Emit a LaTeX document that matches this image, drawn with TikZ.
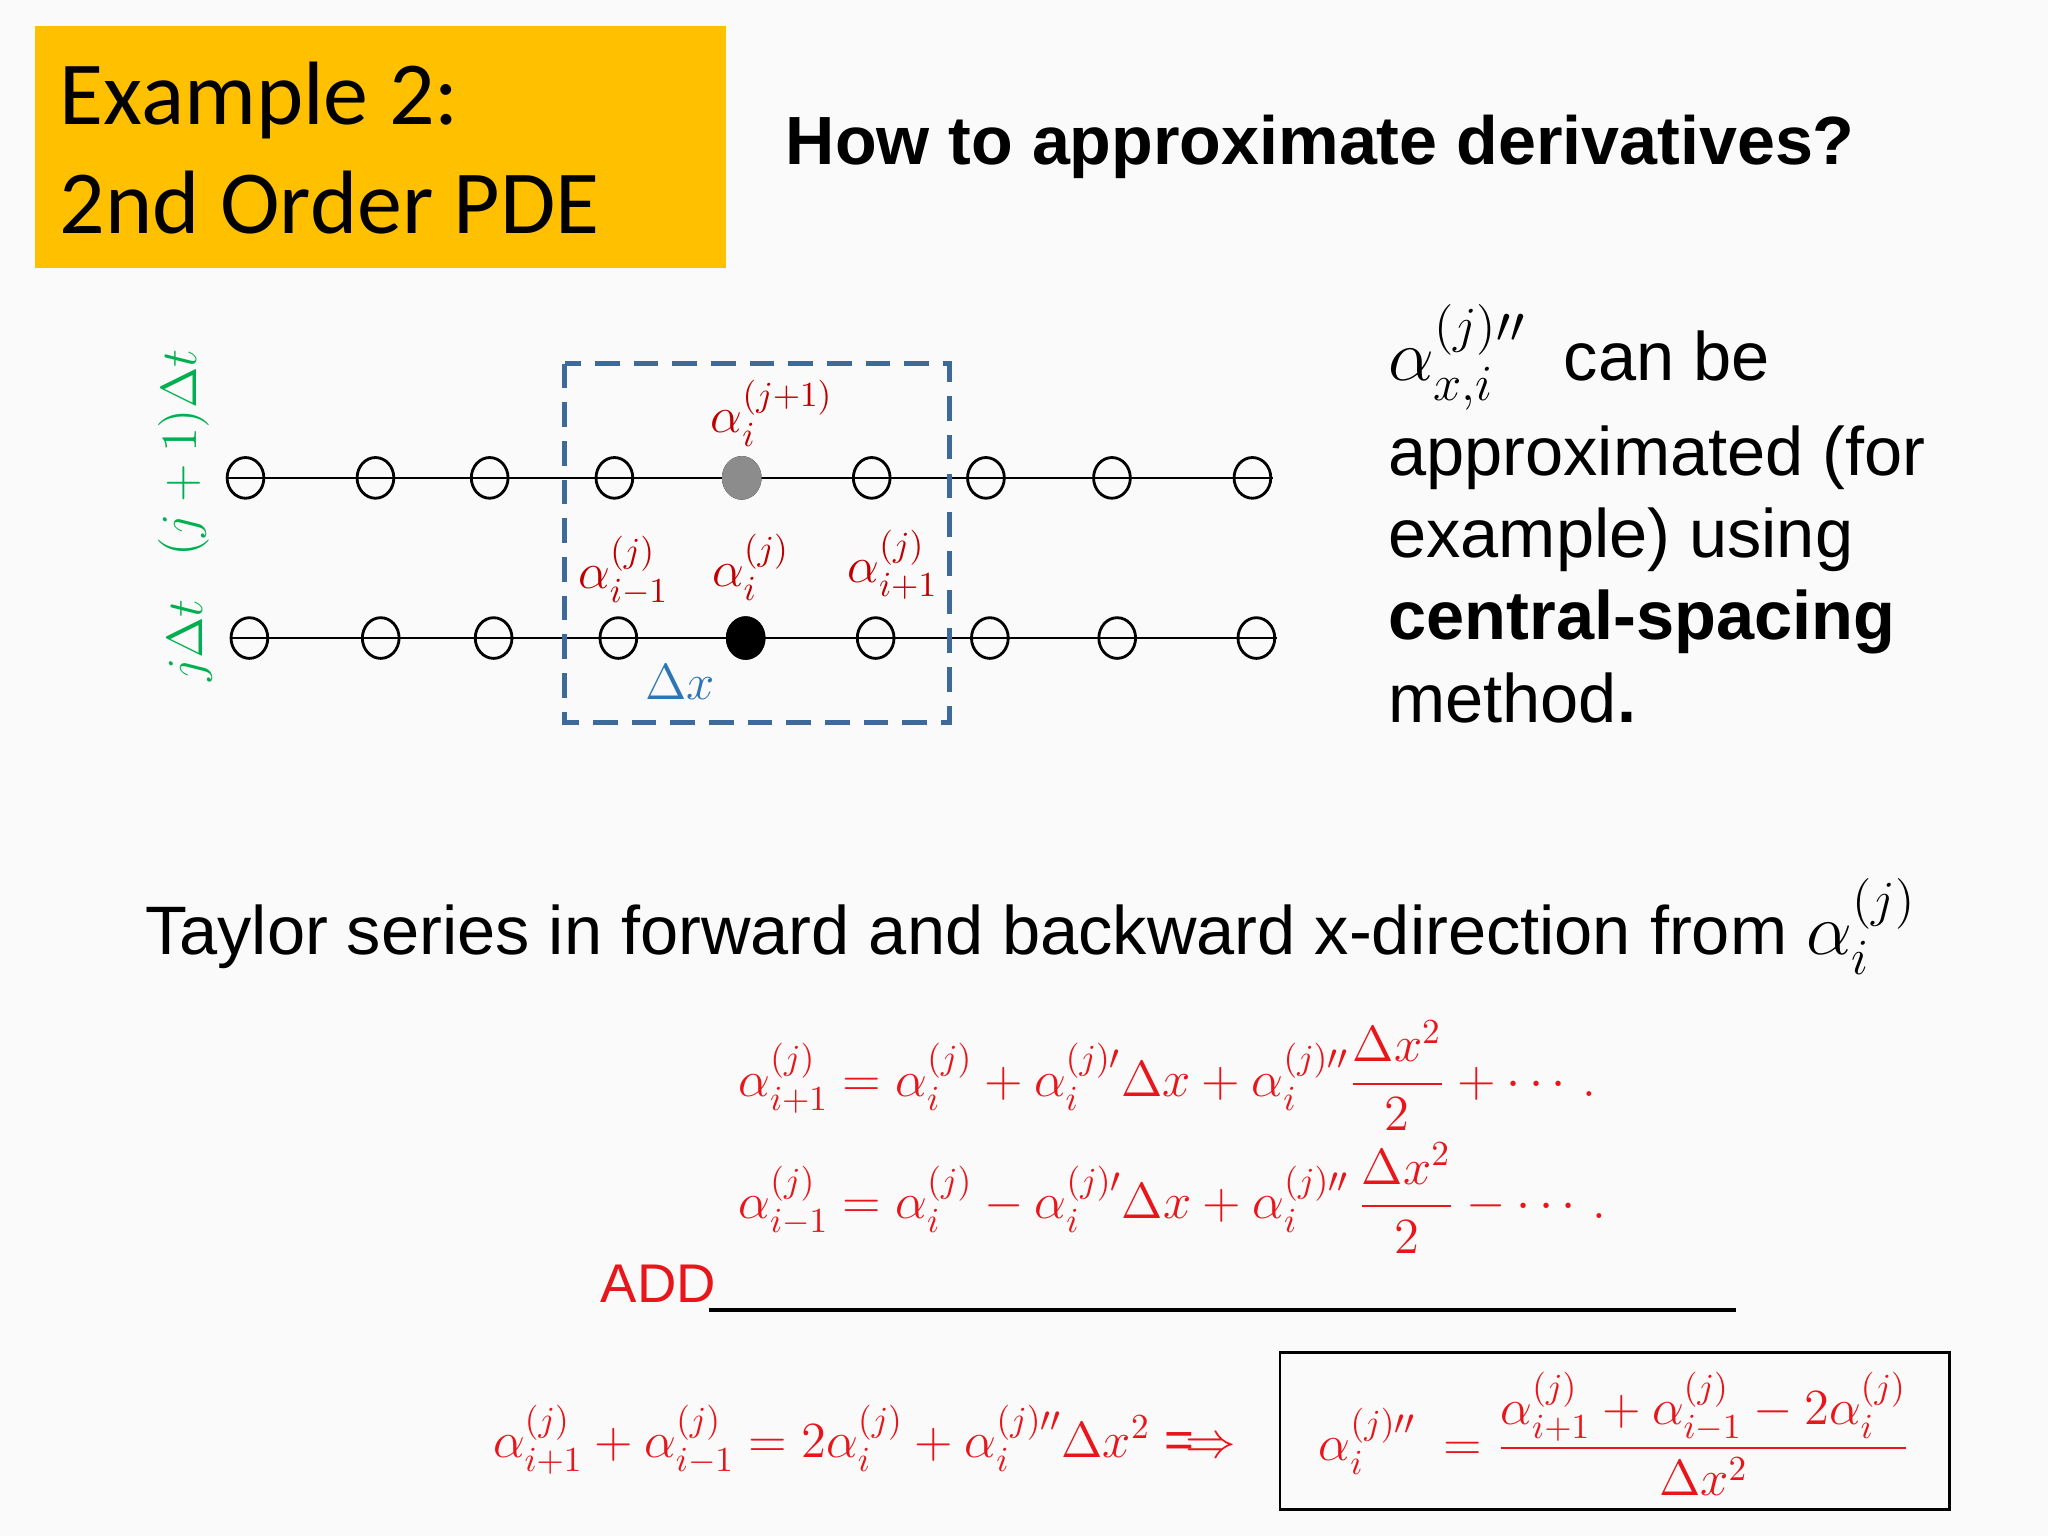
\documentclass[tikz,border=0pt]{standalone}
\usepackage{amsmath}
\usepackage{fontspec}
\setmainfont{Liberation Sans}
\newfontfamily\calib{Carlito}
\definecolor{orng}{HTML}{FFC000}
\definecolor{dred}{HTML}{C00000}
\definecolor{eqred}{HTML}{E8161B}
\definecolor{grn}{HTML}{00B050}
\definecolor{bxblue}{HTML}{3E6A9A}
\definecolor{dxblue}{HTML}{2E75B6}
\definecolor{bg}{HTML}{FAFAFA}
\tikzset{
  pt/.style={draw,ellipse,minimum width=28\unitx,minimum height=31\unitx,inner sep=0pt,line width=0.8pt},
  lbl/.style={text=dred,font=\fontsize{14}{16}\selectfont},
  eq/.style={text=eqred,font=\fontsize{14.5}{18}\selectfont},
  body/.style={font=\fontsize{19.5}{23}\selectfont,anchor=base west,inner sep=0pt}
}
\usetikzlibrary{shapes.geometric}
\newlength\unitx \setlength\unitx{0.013128cm}
\begin{document}
\begin{tikzpicture}[x=0.013128cm,y=-0.013128cm]
\fill[bg] (0,0) rectangle (1560,1170);
\useasboundingbox (0,0) rectangle (1560,1170);
\fill[orng] (27,20) rectangle (553,204);
\node[anchor=base west,inner sep=0pt,font=\calib\fontsize{25.6}{30}\selectfont] (ex1) at (45,95) {Example 2:};
\node[anchor=base west,inner sep=0pt,font=\calib\fontsize{25.6}{30}\selectfont] (ex2) at (45,178) {2nd Order PDE};
\node[anchor=base west,inner sep=0pt,font=\bfseries\fontsize{19.4}{22}\selectfont] (title) at (598,125) {How to approximate derivatives?};
% grid
\draw[line width=0.6pt] (172,364) -- (970,364);
\draw[line width=0.6pt] (175,486) -- (973,486);
\foreach \x [count=\k] in {187,286,373,468,565,664,751,847,954}{
  \node[pt] (a\k) at (\x,364) {};}
\foreach \x [count=\k] in {190,290,376,471,568,667,754,851,957}{
  \node[pt] (b\k) at (\x,486) {};}
\node[pt,fill=gray!90,draw=gray!90] at (565,364) {};
\node[pt,fill=black] at (568,486) {};
\draw[bxblue,line width=1.4pt,dash pattern=on 7pt off 4pt] (430,277) rectangle (723,550);
\node[lbl] (l1) at (588,315) {$\alpha_i^{(j+1)}$};
\node[lbl] (l2) at (475,435) {$\alpha_{i-1}^{(j)}$};
\node[lbl] (l3) at (572,432) {$\alpha_i^{(j)}$};
\node[lbl] (l4) at (680,430) {$\alpha_{i+1}^{(j)}$};
\node[text=dxblue,font=\fontsize{15}{17}\selectfont] (dx) at (518,520) {$\Delta x$};
\node[text=grn,rotate=90,font=\fontsize{15}{17}\selectfont] (t1) at (140,345) {$(j+1)\Delta t$};
\node[text=grn,rotate=90,font=\fontsize{15}{17}\selectfont] (t2) at (145,488) {$j\Delta t$};
% right text
\node[body] (r1) at (1057,290) {$\alpha_{x,i}^{(j)\prime\prime}$ \ can be};
\node[body] (r2) at (1057,362) {approximated (for};
\node[body] (r3) at (1057,425) {example) using};
\node[body] (r4) at (1057,487) {\textbf{central-spacing}};
\node[body] (r5) at (1057,550) {method\textbf{.}};
\node[body] (tay) at (110,727) {Taylor series in forward and backward x-direction from $\alpha_i^{(j)}$};
% equations
\node[eq,anchor=base west,inner sep=0pt] (e1) at (562,835) {$\alpha_{i+1}^{(j)}=\alpha_i^{(j)}+\alpha_i^{(j)\prime}\Delta x+\alpha_i^{(j)\prime\prime}\dfrac{\Delta x^2}{2}+\cdots.$};
\node[eq,anchor=base west,inner sep=0pt] (e2) at (562,928) {$\alpha_{i-1}^{(j)}=\alpha_i^{(j)}-\alpha_i^{(j)\prime}\Delta x+\alpha_i^{(j)\prime\prime}\,\dfrac{\Delta x^2}{2}-\cdots.$};
\node[text=eqred,anchor=base west,inner sep=0pt,font=\fontsize{15.5}{18}\selectfont] (add) at (457,992) {ADD};
\coordinate (ls) at (540,998);
\coordinate (le) at (1322,998);
\draw[line width=1.2pt] (ls) -- (le);
\node[eq,anchor=base west,inner sep=0pt] (e3) at (375,1110) {$\alpha_{i+1}^{(j)}+\alpha_{i-1}^{(j)}=2\alpha_i^{(j)}+\alpha_i^{(j)\prime\prime}\Delta x^2\Longrightarrow$};
\draw[line width=0.8pt] (975,1030) rectangle (1485,1150);
\node[eq] (e4) at (1230,1092) {$\alpha_i^{(j)\prime\prime}\;=\dfrac{\alpha_{i+1}^{(j)}+\alpha_{i-1}^{(j)}-2\alpha_i^{(j)}}{\Delta x^2}$};
\end{tikzpicture}
\end{document}
